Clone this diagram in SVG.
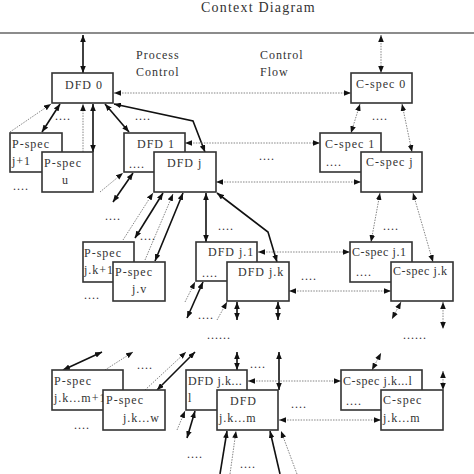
<svg xmlns="http://www.w3.org/2000/svg" width="474" height="474" viewBox="0 0 474 474">
<style>
text{font-family:"Liberation Serif","Times New Roman",serif;font-size:12px;letter-spacing:1px;fill:#333}
.t{font-size:14px;letter-spacing:1.2px}
.n{letter-spacing:0.6px}
.b rect{fill:#fff;stroke:#333;stroke-width:1.6}
.s{stroke:#111;stroke-width:1.6;fill:none}
.d{stroke:#777;stroke-width:0.9;stroke-dasharray:1.5 1.2;fill:none}
.s2{marker-start:url(#a);marker-end:url(#a)}
.e{marker-end:url(#a)}
</style>
<defs>
<marker id="a" viewBox="0 0 10 8" refX="10" refY="4" markerWidth="7" markerHeight="5.6" markerUnits="userSpaceOnUse" orient="auto-start-reverse"><path d="M0,0 L10,4 L0,8 z" fill="#111"/></marker>
</defs>
<rect width="474" height="474" fill="#fff"/>
<text class="t" x="201" y="12">Context Diagram</text>
<line x1="0" y1="33" x2="474" y2="33" stroke="#666" stroke-width="1.5"/>
<text x="136" y="59">Process</text>
<text x="136" y="76">Control</text>
<text x="260" y="59">Control</text>
<text x="260" y="76">Flow</text>
<g id="connectors">
<line class="s s2" x1="83" y1="35" x2="83" y2="73"/>
<line class="s s2" x1="60" y1="104" x2="42" y2="132"/>
<line class="s s2" x1="93" y1="104" x2="93" y2="152"/>
<line class="s s2" x1="105" y1="104" x2="129" y2="132"/>
<polyline class="s s2" points="114,104 193,121 205,152"/>
<line class="s s2" x1="133" y1="173" x2="113" y2="202"/>
<line class="s s2" x1="163" y1="193" x2="135" y2="238"/>
<line class="s s2" x1="183" y1="193" x2="155" y2="261"/>
<line class="s s2" x1="206" y1="193" x2="206" y2="242"/>
<polyline class="s s2" points="217,193 268,232 277,262"/>
<line class="s s2" x1="203" y1="282" x2="187" y2="318"/>
<line class="s s2" x1="237" y1="302" x2="237" y2="320"/>
<line class="s s2" x1="278" y1="302" x2="278" y2="320"/>
<line class="s s2" x1="63" y1="370" x2="102" y2="352"/>
<line class="s s2" x1="157" y1="390" x2="195" y2="352"/>
<line class="s s2" x1="237" y1="352" x2="237" y2="370"/>
<line class="s s2" x1="279" y1="352" x2="279" y2="390"/>
<line class="s s2" x1="195" y1="411" x2="187" y2="438"/>
<line class="s e" x1="220" y1="474" x2="227" y2="431"/>
<line class="s e" x1="280" y1="474" x2="270" y2="431"/>
<line class="d e" x1="10" y1="132" x2="51" y2="104"/>
<line class="d e" x1="83" y1="152" x2="83" y2="104"/>
<line class="d e" x1="100" y1="192" x2="123" y2="173"/>
<line class="d e" x1="123" y1="240" x2="153" y2="193"/>
<line class="d e" x1="145" y1="260" x2="173" y2="194"/>
<line class="d e" x1="185" y1="302" x2="195" y2="282"/>
<line class="d e" x1="217" y1="320" x2="227" y2="302"/>
<line class="d e" x1="105" y1="370" x2="133" y2="352"/>
<line class="d e" x1="145" y1="390" x2="186" y2="352"/>
<line class="d e" x1="177" y1="430" x2="185" y2="411"/>
<line class="d e" x1="230" y1="474" x2="236" y2="431"/>
<line class="d e" x1="297" y1="474" x2="281" y2="431"/>
<line class="d s2" x1="381" y1="35" x2="381" y2="73"/>
<line class="d s2" x1="114" y1="93" x2="351" y2="93"/>
<line class="d s2" x1="185" y1="143" x2="320" y2="143"/>
<line class="d s2" x1="216" y1="182" x2="361" y2="182"/>
<line class="d s2" x1="360" y1="104" x2="351" y2="133"/>
<line class="d s2" x1="402" y1="104" x2="412" y2="152"/>
<line class="d s2" x1="258" y1="252" x2="350" y2="252"/>
<line class="d s2" x1="289" y1="291" x2="391" y2="291"/>
<line class="d s2" x1="380" y1="193" x2="371" y2="242"/>
<line class="d s2" x1="413" y1="193" x2="433" y2="262"/>
<line class="d s2" x1="401" y1="302" x2="392" y2="319"/>
<line class="d s2" x1="443" y1="302" x2="443" y2="329"/>
<line class="d s2" x1="248" y1="381" x2="341" y2="381"/>
<line class="d s2" x1="279" y1="420" x2="381" y2="420"/>
<line class="d s2" x1="372" y1="370" x2="381" y2="353"/>
<line class="d s2" x1="443" y1="371" x2="443" y2="390"/>
</g>
<g id="dots">
<text x="55" y="120">....</text>
<text x="135" y="120">....</text>
<text x="372" y="120">....</text>
<text x="13" y="190">....</text>
<text x="259" y="160">....</text>
<text x="105" y="220">....</text>
<text x="218" y="230">....</text>
<text x="383" y="230">....</text>
<text x="140" y="240">....</text>
<text x="84" y="299">....</text>
<text x="301" y="280">....</text>
<text x="198" y="319">....</text>
<text x="207" y="339">......</text>
<text x="403" y="339">......</text>
<text x="137" y="369">....</text>
<text x="250" y="368">....</text>
<text x="74" y="429">....</text>
<text x="291" y="408">....</text>
<text x="187" y="458">....</text>
<text x="240" y="468">....</text>
</g>
<g id="dfd0" class="b"><rect x="52" y="73" width="61" height="30"/><text x="65" y="89">DFD 0</text></g>
<g id="cspec0" class="b"><rect x="351" y="73" width="61" height="30"/><text x="356" y="88">C-spec 0</text></g>
<g id="pspec-j1" class="b"><rect x="10" y="133" width="52" height="39"/><text x="12" y="148">P-spec</text><text x="12" y="165">j+1</text></g>
<g id="pspec-u" class="b"><rect x="42" y="152" width="51" height="40"/><text x="44" y="167">P-spec</text><text x="62" y="184">u</text></g>
<g id="dfd1" class="b"><rect x="124" y="133" width="61" height="39"/><text x="137" y="148">DFD 1</text><text x="129" y="168">....</text></g>
<g id="dfdj" class="b"><rect x="154" y="152" width="62" height="40"/><text x="167" y="167">DFD j</text></g>
<g id="cspec1" class="b"><rect x="320" y="133" width="61" height="39"/><text x="325" y="148">C-spec 1</text><text x="326" y="166">....</text></g>
<g id="cspecj" class="b"><rect x="361" y="152" width="61" height="40"/><text x="366" y="166">C-spec j</text></g>
<g id="pspec-jk1" class="b"><rect x="83" y="242" width="51" height="40"/><text x="84" y="257">P-spec</text><text x="84" y="274">j.k+1</text></g>
<g id="pspec-jv" class="b"><rect x="113" y="262" width="52" height="39"/><text x="115" y="276">P-spec</text><text x="132" y="293">j.v</text></g>
<g id="dfdj1" class="b"><rect x="196" y="242" width="61" height="39"/><text x="208" y="256">DFD j.1</text><text x="202" y="277">....</text></g>
<g id="dfdjk" class="b"><rect x="227" y="262" width="62" height="39"/><text x="238" y="276">DFD j.k</text></g>
<g id="cspecj1" class="b"><rect x="350" y="242" width="62" height="40"/><text class="n" x="352" y="256">C-spec j.1</text><text x="356" y="276">....</text></g>
<g id="cspecjk" class="b"><rect x="391" y="262" width="62" height="39"/><text class="n" x="393" y="275">C-spec j.k</text></g>
<g id="pspec-jkm1" class="b"><rect x="52" y="370" width="71" height="40"/><text x="54" y="385">P-spec</text><text x="54" y="402">j.k...m+1</text></g>
<g id="pspec-jkw" class="b"><rect x="103" y="390" width="62" height="40"/><text x="106" y="404">P-spec</text><text x="123" y="422">j.k...w</text></g>
<g id="dfdjkl" class="b"><rect x="186" y="370" width="61" height="40"/><text class="n" x="188" y="385">DFD j.k...</text><text x="188" y="402">l</text></g>
<g id="dfdjkm" class="b"><rect x="217" y="390" width="61" height="40"/><text x="230" y="405">DFD</text><text x="219" y="422">j.k...m</text></g>
<g id="cspecjkl" class="b"><rect x="341" y="370" width="81" height="40"/><text class="n" x="343" y="385">C-spec j.k...l</text><text x="346" y="405">....</text></g>
<g id="cspecjkm" class="b"><rect x="381" y="390" width="62" height="40"/><text x="383" y="404">C-spec</text><text x="383" y="422">j.k...m</text></g>
</svg>
